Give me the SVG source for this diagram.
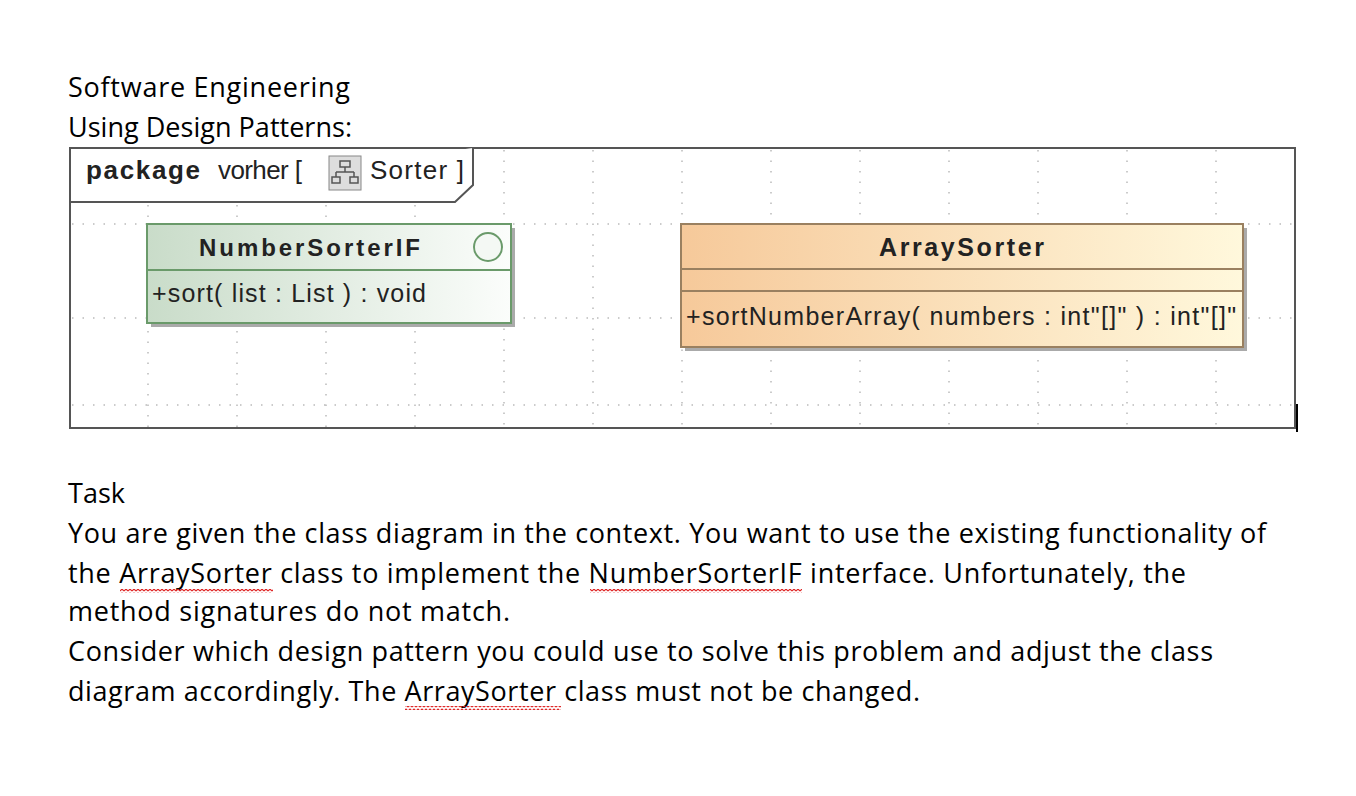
<svg xmlns="http://www.w3.org/2000/svg" width="1356" height="796" viewBox="0 0 1356 796">
<style>
.t{font-family:"Open Sans","Liberation Sans",sans-serif;font-size:27px;fill:#000}
.u{font-family:"Liberation Sans",Arial,sans-serif;fill:#222}
.g{stroke:#bbb;stroke-width:1.5;stroke-dasharray:1.5 9;fill:none}
.sq{fill:none;stroke:#d22;stroke-width:1.2;stroke-dasharray:none}
</style>
<defs>
<linearGradient id="gg" x1="0" x2="1"><stop offset="0" stop-color="#c9dcc9"/><stop offset="1" stop-color="#fbfdfb"/></linearGradient>
<linearGradient id="og" x1="0" x2="1"><stop offset="0" stop-color="#f6c99a"/><stop offset="1" stop-color="#fff8dc"/></linearGradient>
<pattern id="wv" width="4" height="4" patternUnits="userSpaceOnUse"><path d="M0 3L2 1L4 3" fill="none" stroke="#d22" stroke-width="1.1"/></pattern>
</defs>
<rect width="1356" height="796" fill="#fff"/>
<text class="t" x="68" y="97" textLength="282">Software Engineering</text>
<text class="t" x="68" y="137" textLength="284">Using Design Patterns:</text>
<g id="package">
<rect x="70" y="148" width="1225" height="280" fill="#fff" stroke="#555" stroke-width="2"/>
<line x1="1297" y1="404" x2="1297" y2="432" stroke="#000" stroke-width="2"/>
<g class="g">
<path d="M72 224H1295M72 318H1295M72 405H1295"/>
<path d="M148 205V428M237 205V428M326 205V428M415 205V428M504 150V428M593 150V428M682 150V428M771 150V428M860 150V428M949 150V428M1038 150V428M1127 150V428M1216 150V428"/>
</g>
<path d="M70 202H455L473 185V148" fill="#fff" stroke="#555" stroke-width="2"/>
<text class="u" x="86" y="179" font-size="26" font-weight="bold" fill="#333" textLength="114">package</text>
<text class="u" x="218" y="179" font-size="26" textLength="84">vorher [</text>
<rect x="329" y="156" width="32" height="34" fill="#ddd" stroke="#888"/>
<path d="M340 161h10v6h-10zM345 167v5M336 172h18M336 172v5M354 172v5M332 177h8v6h-8zM350 177h8v6h-8z" fill="none" stroke="#555" stroke-width="1.5"/>
<text class="u" x="370" y="179" font-size="26" textLength="94">Sorter ]</text>
</g>
<g id="NumberSorterIF">
<rect x="151" y="228" width="364" height="99" fill="#aaa"/>
<rect x="147" y="224" width="364" height="99" fill="url(#gg)" stroke="#6a9a6a" stroke-width="2"/>
<line x1="147" y1="270" x2="511" y2="270" stroke="#6a9a6a" stroke-width="2"/>
<text class="u" x="199" y="256" font-size="24" font-weight="bold" textLength="221">NumberSorterIF</text>
<circle cx="488" cy="247" r="14" fill="#f4f8f4" stroke="#6a9a6a" stroke-width="2"/>
<text class="u" x="152" y="302" font-size="25" textLength="274">+sort( list : List ) : void</text>
</g>
<g id="ArraySorter">
<rect x="685" y="228" width="562" height="123" fill="#aaa"/>
<rect x="681" y="224" width="562" height="123" fill="url(#og)" stroke="#9a8060" stroke-width="2"/>
<path d="M681 269H1243M681 291H1243" stroke="#9a8060" stroke-width="2"/>
<text class="u" x="879" y="256" font-size="25" font-weight="bold" textLength="165">ArraySorter</text>
<text class="u" x="686" y="325" font-size="25" textLength="550">+sortNumberArray( numbers : int"[]" ) : int"[]"</text>
</g>
<g id="connectors"/>
<text class="t" x="68" y="503" textLength="57">Task</text>
<text class="t" x="68" y="543" textLength="1198">You are given the class diagram in the context. You want to use the existing functionality of</text>
<text class="t" x="68" y="583" textLength="1118">the ArraySorter class to implement the NumberSorterIF interface. Unfortunately, the</text>
<text class="t" x="68" y="621" textLength="442">method signatures do not match.</text>
<text class="t" x="68" y="661" textLength="1145">Consider which design pattern you could use to solve this problem and adjust the class</text>
<text class="t" x="68" y="701" textLength="852">diagram accordingly. The ArraySorter class must not be changed.</text>
<rect x="120" y="589" width="153" height="4" fill="url(#wv)"/>
<rect x="590" y="589" width="212" height="4" fill="url(#wv)"/>
<rect x="405" y="706" width="156" height="4" fill="url(#wv)"/>
</svg>
